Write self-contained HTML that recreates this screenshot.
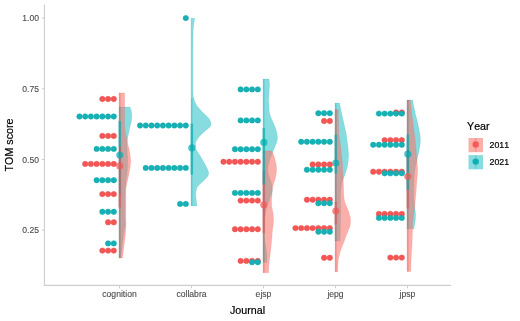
<!DOCTYPE html>
<html><head><meta charset="utf-8"><style>
html,body{margin:0;padding:0;background:#fff;}
text{font-kerning:none;}
.dr{fill:#F35654;stroke:#E84A48;stroke-width:0.5px;}
.dt{fill:#15B1B5;stroke:#0AA7AB;stroke-width:0.5px;}
svg{display:block;}
.ax{font-family:"Liberation Sans",Arial,sans-serif;font-size:8.6px;fill:#4D4D4D;stroke:#4D4D4D;stroke-width:0.12px;}
.ax2{font-family:"Liberation Sans",Arial,sans-serif;font-size:8.8px;fill:#000;stroke:#000;stroke-width:0.2px;}
.ti{font-family:"Liberation Sans",Arial,sans-serif;font-size:10.7px;fill:#000;stroke:#000;stroke-width:0.2px;}
</style></head><body>
<svg width="520" height="321" viewBox="0 0 520 321">
<rect width="520" height="321" fill="#fff"/>
<line x1="44.4" y1="4.8" x2="44.4" y2="285.9" stroke="#CDCDCD" stroke-width="1.1"/>
<line x1="43.85" y1="285.4" x2="451" y2="285.4" stroke="#CDCDCD" stroke-width="1.1"/>
<line x1="41.8" y1="230.20" x2="44" y2="230.20" stroke="#CDCDCD" stroke-width="1"/>
<text x="39" y="233.30" class="ax" text-anchor="end">0.25</text>
<line x1="41.8" y1="159.50" x2="44" y2="159.50" stroke="#CDCDCD" stroke-width="1"/>
<text x="39" y="162.60" class="ax" text-anchor="end">0.50</text>
<line x1="41.8" y1="88.80" x2="44" y2="88.80" stroke="#CDCDCD" stroke-width="1"/>
<text x="39" y="91.90" class="ax" text-anchor="end">0.75</text>
<line x1="41.8" y1="18.10" x2="44" y2="18.10" stroke="#CDCDCD" stroke-width="1"/>
<text x="39" y="21.20" class="ax" text-anchor="end">1.00</text>
<line x1="119.50" y1="286" x2="119.50" y2="288.3" stroke="#CDCDCD" stroke-width="1"/>
<text x="119.50" y="296.6" class="ax" text-anchor="middle">cognition</text>
<line x1="191.50" y1="286" x2="191.50" y2="288.3" stroke="#CDCDCD" stroke-width="1"/>
<text x="191.50" y="296.6" class="ax" text-anchor="middle">collabra</text>
<line x1="263.50" y1="286" x2="263.50" y2="288.3" stroke="#CDCDCD" stroke-width="1"/>
<text x="263.50" y="296.6" class="ax" text-anchor="middle">ejsp</text>
<line x1="335.50" y1="286" x2="335.50" y2="288.3" stroke="#CDCDCD" stroke-width="1"/>
<text x="335.50" y="296.6" class="ax" text-anchor="middle">jepg</text>
<line x1="407.50" y1="286" x2="407.50" y2="288.3" stroke="#CDCDCD" stroke-width="1"/>
<text x="407.50" y="296.6" class="ax" text-anchor="middle">jpsp</text>
<text x="247.5" y="313.6" class="ti" text-anchor="middle">Journal</text>
<text transform="translate(12.6,145) rotate(-90)" class="ti" text-anchor="middle">TOM score</text>
<path d="M119.0,106.9 L129.80,106.90 L130.03,107.40 L130.26,107.90 L130.47,108.40 L130.67,108.90 L130.84,109.40 L130.98,109.90 L131.09,110.40 L131.21,110.90 L131.32,111.40 L131.43,111.90 L131.53,112.40 L131.61,112.90 L131.69,113.40 L131.75,113.90 L131.78,114.40 L131.80,114.90 L131.80,115.40 L131.79,115.90 L131.78,116.40 L131.77,116.90 L131.75,117.40 L131.72,117.90 L131.70,118.40 L131.67,118.90 L131.64,119.40 L131.61,119.90 L131.56,120.40 L131.49,120.90 L131.39,121.40 L131.26,121.90 L131.13,122.40 L130.98,122.90 L130.84,123.40 L130.69,123.90 L130.55,124.40 L130.42,124.90 L130.31,125.40 L130.20,125.90 L130.09,126.40 L129.98,126.90 L129.87,127.40 L129.76,127.90 L129.65,128.40 L129.54,128.90 L129.43,129.40 L129.32,129.90 L129.21,130.40 L129.10,130.90 L128.98,131.40 L128.87,131.90 L128.75,132.40 L128.64,132.90 L128.53,133.40 L128.42,133.90 L128.32,134.40 L128.22,134.90 L128.13,135.40 L128.03,135.90 L127.94,136.40 L127.85,136.90 L127.77,137.40 L127.69,137.90 L127.61,138.40 L127.54,138.90 L127.47,139.40 L127.41,139.90 L127.36,140.40 L127.30,140.90 L127.25,141.40 L127.19,141.90 L127.14,142.40 L127.10,142.90 L127.06,143.40 L127.03,143.90 L127.01,144.40 L127.00,144.90 L127.00,145.40 L127.00,145.90 L127.01,146.40 L127.02,146.90 L127.03,147.40 L127.04,147.90 L127.05,148.40 L127.07,148.90 L127.08,149.40 L127.10,149.90 L127.11,150.40 L127.14,150.90 L127.17,151.40 L127.20,151.90 L127.24,152.40 L127.28,152.90 L127.33,153.40 L127.37,153.90 L127.41,154.40 L127.45,154.90 L127.49,155.40 L127.53,155.90 L127.56,156.40 L127.58,156.90 L127.59,157.40 L127.60,157.90 L127.60,158.40 L127.60,158.90 L127.60,159.40 L127.60,159.90 L127.60,160.40 L127.60,160.90 L127.60,161.40 L127.60,161.90 L127.60,162.40 L127.60,162.90 L127.60,163.40 L127.60,163.90 L127.60,164.40 L127.60,164.90 L127.60,165.40 L127.58,165.90 L127.56,166.40 L127.53,166.90 L127.50,167.40 L127.46,167.90 L127.42,168.40 L127.38,168.90 L127.34,169.40 L127.31,169.90 L127.27,170.40 L127.24,170.90 L127.20,171.40 L127.17,171.90 L127.13,172.40 L127.09,172.90 L127.05,173.40 L127.00,173.90 L126.96,174.40 L126.91,174.90 L126.86,175.40 L126.79,175.90 L126.72,176.40 L126.64,176.90 L126.57,177.40 L126.49,177.90 L126.41,178.40 L126.34,178.90 L126.27,179.40 L126.21,179.90 L126.16,180.40 L126.12,180.90 L126.08,181.40 L126.04,181.90 L126.00,182.40 L125.97,182.90 L125.93,183.40 L125.89,183.90 L125.85,184.40 L125.81,184.90 L125.76,185.40 L125.70,185.90 L125.63,186.40 L125.56,186.90 L125.49,187.40 L125.42,187.90 L125.35,188.40 L125.29,188.90 L125.24,189.40 L125.21,189.90 L125.18,190.40 L125.15,190.90 L125.13,191.40 L125.11,191.90 L125.09,192.40 L125.06,192.90 L125.04,193.40 L125.02,193.90 L125.01,194.40 L124.99,194.90 L124.97,195.40 L124.96,195.90 L124.95,196.40 L124.93,196.90 L124.92,197.40 L124.92,197.90 L124.91,198.40 L124.90,198.90 L124.90,199.40 L124.90,199.90 L124.90,200.40 L124.90,200.90 L124.90,201.40 L124.90,201.90 L124.90,202.40 L124.90,202.90 L124.90,203.40 L124.90,203.90 L124.90,204.40 L124.90,204.90 L124.90,205.40 L124.90,205.90 L124.90,206.40 L124.90,206.90 L124.90,207.40 L124.90,207.90 L124.90,208.40 L124.90,208.90 L124.90,209.40 L124.90,209.90 L124.90,210.40 L124.90,210.90 L124.90,211.40 L124.90,211.90 L124.90,212.40 L124.90,212.90 L124.90,213.40 L124.90,213.90 L124.90,214.40 L124.90,214.90 L124.90,215.40 L124.90,215.90 L124.90,216.40 L124.90,216.90 L124.90,217.40 L124.90,217.90 L124.90,218.40 L124.90,218.90 L124.90,219.40 L124.90,219.90 L124.91,220.40 L124.93,220.90 L124.96,221.40 L124.99,221.90 L125.03,222.40 L125.06,222.90 L125.09,223.40 L125.10,223.90 L125.10,224.40 L125.08,224.90 L125.05,225.40 L125.01,225.90 L124.96,226.40 L124.90,226.90 L124.83,227.40 L124.76,227.90 L124.68,228.40 L124.59,228.90 L124.50,229.40 L124.41,229.90 L124.31,230.40 L124.21,230.90 L124.12,231.40 L124.02,231.90 L123.92,232.40 L123.83,232.90 L123.75,233.40 L123.66,233.90 L123.58,234.40 L123.51,234.90 L123.45,235.40 L123.38,235.90 L123.32,236.40 L123.26,236.90 L123.20,237.40 L123.14,237.90 L123.08,238.40 L123.02,238.90 L122.96,239.40 L122.90,239.90 L122.84,240.40 L122.78,240.90 L122.72,241.40 L122.66,241.90 L122.61,242.40 L122.55,242.90 L122.49,243.40 L122.43,243.90 L122.37,244.40 L122.31,244.90 L122.25,245.40 L122.19,245.90 L122.13,246.40 L122.07,246.90 L122.01,247.40 L121.94,247.90 L121.88,248.40 L121.82,248.90 L121.76,249.40 L121.70,249.90 L121.64,250.40 L121.57,250.90 L121.51,251.40 L121.45,251.90 L121.39,252.40 L121.34,252.90 L121.28,253.40 L121.22,253.90 L121.17,254.40 L121.11,254.90 L121.06,255.40 L121.01,255.90 L120.96,256.40 L120.91,256.90 L120.86,257.40 L120.81,257.90 L120.80,258.00 L119.0,258.0 Z" fill="rgba(0,180,186,0.47)" stroke="rgba(0,165,170,0.3)" stroke-width="0.5"/>
<path d="M191.0,18.3 L194.70,18.30 L194.61,18.80 L194.53,19.30 L194.44,19.80 L194.36,20.30 L194.28,20.80 L194.20,21.30 L194.13,21.80 L194.06,22.30 L193.99,22.80 L193.92,23.30 L193.86,23.80 L193.80,24.30 L193.74,24.80 L193.69,25.30 L193.63,25.80 L193.57,26.30 L193.52,26.80 L193.47,27.30 L193.42,27.80 L193.37,28.30 L193.33,28.80 L193.29,29.30 L193.26,29.80 L193.23,30.30 L193.20,30.80 L193.19,31.30 L193.17,31.80 L193.15,32.30 L193.14,32.80 L193.12,33.30 L193.11,33.80 L193.10,34.30 L193.08,34.80 L193.07,35.30 L193.06,35.80 L193.05,36.30 L193.04,36.80 L193.03,37.30 L193.03,37.80 L193.02,38.30 L193.01,38.80 L193.01,39.30 L193.00,39.80 L193.00,40.30 L192.99,40.80 L192.99,41.30 L192.98,41.80 L192.98,42.30 L192.98,42.80 L192.97,43.30 L192.97,43.80 L192.96,44.30 L192.96,44.80 L192.96,45.30 L192.95,45.80 L192.95,46.30 L192.95,46.80 L192.94,47.30 L192.94,47.80 L192.94,48.30 L192.93,48.80 L192.93,49.30 L192.93,49.80 L192.93,50.30 L192.92,50.80 L192.92,51.30 L192.92,51.80 L192.92,52.30 L192.91,52.80 L192.91,53.30 L192.91,53.80 L192.91,54.30 L192.91,54.80 L192.91,55.30 L192.91,55.80 L192.90,56.30 L192.90,56.80 L192.90,57.30 L192.90,57.80 L192.90,58.30 L192.90,58.80 L192.90,59.30 L192.90,59.80 L192.90,60.30 L192.90,60.80 L192.90,61.30 L192.90,61.80 L192.90,62.30 L192.90,62.80 L192.90,63.30 L192.90,63.80 L192.90,64.30 L192.90,64.80 L192.90,65.30 L192.90,65.80 L192.90,66.30 L192.90,66.80 L192.90,67.30 L192.90,67.80 L192.90,68.30 L192.90,68.80 L192.90,69.30 L192.90,69.80 L192.90,70.30 L192.90,70.80 L192.90,71.30 L192.90,71.80 L192.90,72.30 L192.90,72.80 L192.90,73.30 L192.90,73.80 L192.90,74.30 L192.90,74.80 L192.90,75.30 L192.90,75.80 L192.90,76.30 L192.90,76.80 L192.90,77.30 L192.90,77.80 L192.90,78.30 L192.90,78.80 L192.90,79.30 L192.90,79.80 L192.90,80.30 L192.90,80.80 L192.90,81.30 L192.90,81.80 L192.90,82.30 L192.90,82.80 L192.90,83.30 L192.90,83.80 L192.90,84.30 L192.90,84.80 L192.90,85.30 L192.90,85.80 L192.90,86.30 L192.90,86.80 L192.90,87.30 L192.90,87.80 L192.90,88.30 L192.90,88.80 L192.91,89.30 L192.91,89.80 L192.92,90.30 L192.93,90.80 L192.95,91.30 L192.96,91.80 L192.98,92.30 L193.00,92.80 L193.02,93.30 L193.04,93.80 L193.06,94.30 L193.09,94.80 L193.12,95.30 L193.17,95.80 L193.25,96.30 L193.34,96.80 L193.45,97.30 L193.57,97.80 L193.71,98.30 L193.85,98.80 L193.99,99.30 L194.14,99.80 L194.29,100.30 L194.45,100.80 L194.63,101.30 L194.83,101.80 L195.04,102.30 L195.26,102.80 L195.50,103.30 L195.75,103.80 L196.01,104.30 L196.29,104.80 L196.58,105.30 L196.91,105.80 L197.27,106.30 L197.66,106.80 L198.08,107.30 L198.51,107.80 L198.96,108.30 L199.41,108.80 L199.87,109.30 L200.32,109.80 L200.77,110.30 L201.23,110.80 L201.71,111.30 L202.20,111.80 L202.69,112.30 L203.19,112.80 L203.69,113.30 L204.20,113.80 L204.70,114.30 L205.20,114.80 L205.71,115.30 L206.24,115.80 L206.79,116.30 L207.34,116.80 L207.85,117.30 L208.31,117.80 L208.70,118.30 L209.03,118.80 L209.35,119.30 L209.65,119.80 L209.92,120.30 L210.16,120.80 L210.37,121.30 L210.54,121.80 L210.68,122.30 L210.82,122.80 L210.93,123.30 L210.99,123.80 L210.98,124.30 L210.90,124.80 L210.76,125.30 L210.58,125.80 L210.35,126.30 L209.98,126.80 L209.50,127.30 L209.00,127.80 L208.50,128.30 L207.96,128.80 L207.39,129.30 L206.78,129.80 L206.15,130.30 L205.52,130.80 L204.89,131.30 L204.27,131.80 L203.67,132.30 L203.11,132.80 L202.59,133.30 L202.06,133.80 L201.53,134.30 L201.02,134.80 L200.51,135.30 L200.02,135.80 L199.56,136.30 L199.12,136.80 L198.71,137.30 L198.34,137.80 L198.00,138.30 L197.65,138.80 L197.30,139.30 L196.95,139.80 L196.63,140.30 L196.33,140.80 L196.07,141.30 L195.86,141.80 L195.70,142.30 L195.61,142.80 L195.59,143.30 L195.57,143.80 L195.56,144.30 L195.54,144.80 L195.53,145.30 L195.52,145.80 L195.51,146.30 L195.51,146.80 L195.50,147.30 L195.50,147.80 L195.52,148.30 L195.64,148.80 L195.85,149.30 L196.13,149.80 L196.45,150.30 L196.80,150.80 L197.15,151.30 L197.48,151.80 L197.78,152.30 L198.10,152.80 L198.44,153.30 L198.79,153.80 L199.15,154.30 L199.50,154.80 L199.84,155.30 L200.17,155.80 L200.48,156.30 L200.79,156.80 L201.08,157.30 L201.37,157.80 L201.65,158.30 L201.93,158.80 L202.21,159.30 L202.49,159.80 L202.77,160.30 L203.04,160.80 L203.32,161.30 L203.59,161.80 L203.87,162.30 L204.14,162.80 L204.40,163.30 L204.67,163.80 L204.93,164.30 L205.20,164.80 L205.46,165.30 L205.73,165.80 L206.00,166.30 L206.27,166.80 L206.54,167.30 L206.80,167.80 L207.06,168.30 L207.30,168.80 L207.52,169.30 L207.72,169.80 L207.91,170.30 L208.12,170.80 L208.31,171.30 L208.49,171.80 L208.62,172.30 L208.69,172.80 L208.69,173.30 L208.61,173.80 L208.48,174.30 L208.30,174.80 L208.10,175.30 L207.89,175.80 L207.65,176.30 L207.34,176.80 L206.97,177.30 L206.56,177.80 L206.15,178.30 L205.68,178.80 L205.18,179.30 L204.65,179.80 L204.10,180.30 L203.54,180.80 L202.98,181.30 L202.43,181.80 L201.90,182.30 L201.39,182.80 L200.91,183.30 L200.41,183.80 L199.89,184.30 L199.37,184.80 L198.86,185.30 L198.38,185.80 L197.94,186.30 L197.55,186.80 L197.22,187.30 L196.97,187.80 L196.80,188.30 L196.64,188.80 L196.49,189.30 L196.35,189.80 L196.22,190.30 L196.10,190.80 L195.99,191.30 L195.90,191.80 L195.82,192.30 L195.76,192.80 L195.72,193.30 L195.70,193.80 L195.70,194.30 L195.72,194.80 L195.74,195.30 L195.77,195.80 L195.81,196.30 L195.86,196.80 L195.91,197.30 L195.96,197.80 L196.02,198.30 L196.07,198.80 L196.13,199.30 L196.18,199.80 L196.23,200.30 L196.28,200.80 L196.33,201.30 L196.39,201.80 L196.45,202.30 L196.50,202.80 L196.56,203.30 L196.63,203.80 L196.69,204.30 L196.75,204.80 L196.82,205.30 L196.89,205.80 L196.90,205.90 L191.0,205.9 Z" fill="rgba(0,180,186,0.47)" stroke="rgba(0,165,170,0.3)" stroke-width="0.5"/>
<path d="M263.0,79.1 L268.90,79.10 L268.99,79.60 L269.08,80.10 L269.15,80.60 L269.23,81.10 L269.29,81.60 L269.34,82.10 L269.39,82.60 L269.43,83.10 L269.46,83.60 L269.48,84.10 L269.50,84.60 L269.50,85.10 L269.49,85.60 L269.47,86.10 L269.45,86.60 L269.42,87.10 L269.38,87.60 L269.34,88.10 L269.30,88.60 L269.26,89.10 L269.23,89.60 L269.19,90.10 L269.16,90.60 L269.13,91.10 L269.10,91.60 L269.07,92.10 L269.04,92.60 L269.01,93.10 L268.98,93.60 L268.95,94.10 L268.92,94.60 L268.89,95.10 L268.86,95.60 L268.82,96.10 L268.78,96.60 L268.74,97.10 L268.71,97.60 L268.67,98.10 L268.64,98.60 L268.62,99.10 L268.60,99.60 L268.60,100.10 L268.61,100.60 L268.63,101.10 L268.66,101.60 L268.69,102.10 L268.73,102.60 L268.77,103.10 L268.81,103.60 L268.85,104.10 L268.88,104.60 L268.90,105.10 L268.92,105.60 L268.94,106.10 L268.95,106.60 L268.97,107.10 L268.98,107.60 L269.00,108.10 L269.03,108.60 L269.07,109.10 L269.10,109.60 L269.15,110.10 L269.19,110.60 L269.25,111.10 L269.31,111.60 L269.37,112.10 L269.44,112.60 L269.52,113.10 L269.61,113.60 L269.73,114.10 L269.87,114.60 L270.03,115.10 L270.20,115.60 L270.38,116.10 L270.57,116.60 L270.76,117.10 L270.95,117.60 L271.14,118.10 L271.33,118.60 L271.54,119.10 L271.76,119.60 L271.98,120.10 L272.21,120.60 L272.44,121.10 L272.67,121.60 L272.90,122.10 L273.13,122.60 L273.34,123.10 L273.56,123.60 L273.78,124.10 L274.01,124.60 L274.23,125.10 L274.45,125.60 L274.67,126.10 L274.88,126.60 L275.07,127.10 L275.26,127.60 L275.43,128.10 L275.60,128.60 L275.77,129.10 L275.93,129.60 L276.08,130.10 L276.23,130.60 L276.37,131.10 L276.51,131.60 L276.62,132.10 L276.73,132.60 L276.82,133.10 L276.90,133.60 L276.99,134.10 L277.07,134.60 L277.15,135.10 L277.22,135.60 L277.28,136.10 L277.33,136.60 L277.37,137.10 L277.39,137.60 L277.40,138.10 L277.38,138.60 L277.34,139.10 L277.27,139.60 L277.19,140.10 L277.10,140.60 L276.99,141.10 L276.89,141.60 L276.78,142.10 L276.65,142.60 L276.48,143.10 L276.30,143.60 L276.09,144.10 L275.87,144.60 L275.64,145.10 L275.41,145.60 L275.18,146.10 L274.97,146.60 L274.76,147.10 L274.56,147.60 L274.36,148.10 L274.16,148.60 L273.96,149.10 L273.76,149.60 L273.56,150.10 L273.36,150.60 L273.16,151.10 L272.96,151.60 L272.76,152.10 L272.56,152.60 L272.35,153.10 L272.15,153.60 L271.95,154.10 L271.76,154.60 L271.56,155.10 L271.36,155.60 L271.16,156.10 L270.96,156.60 L270.77,157.10 L270.57,157.60 L270.38,158.10 L270.19,158.60 L270.01,159.10 L269.83,159.60 L269.67,160.10 L269.50,160.60 L269.33,161.10 L269.17,161.60 L269.00,162.10 L268.85,162.60 L268.70,163.10 L268.57,163.60 L268.45,164.10 L268.36,164.60 L268.29,165.10 L268.23,165.60 L268.17,166.10 L268.11,166.60 L268.06,167.10 L268.01,167.60 L267.97,168.10 L267.94,168.60 L267.92,169.10 L267.90,169.60 L267.90,170.10 L267.91,170.60 L267.94,171.10 L267.98,171.60 L268.03,172.10 L268.10,172.60 L268.17,173.10 L268.25,173.60 L268.34,174.10 L268.43,174.60 L268.52,175.10 L268.65,175.60 L268.82,176.10 L269.02,176.60 L269.25,177.10 L269.49,177.60 L269.73,178.10 L269.96,178.60 L270.18,179.10 L270.37,179.60 L270.53,180.10 L270.66,180.60 L270.79,181.10 L270.91,181.60 L271.02,182.10 L271.13,182.60 L271.24,183.10 L271.34,183.60 L271.43,184.10 L271.53,184.60 L271.62,185.10 L271.72,185.60 L271.82,186.10 L271.93,186.60 L272.04,187.10 L272.13,187.60 L272.22,188.10 L272.30,188.60 L272.36,189.10 L272.39,189.60 L272.40,190.10 L272.36,190.60 L272.27,191.10 L272.15,191.60 L271.99,192.10 L271.81,192.60 L271.61,193.10 L271.41,193.60 L271.22,194.10 L271.03,194.60 L270.87,195.10 L270.71,195.60 L270.55,196.10 L270.40,196.60 L270.24,197.10 L270.07,197.60 L269.91,198.10 L269.75,198.60 L269.59,199.10 L269.43,199.60 L269.27,200.10 L269.11,200.60 L268.95,201.10 L268.78,201.60 L268.62,202.10 L268.46,202.60 L268.30,203.10 L268.14,203.60 L267.98,204.10 L267.82,204.60 L267.67,205.10 L267.51,205.60 L267.35,206.10 L267.19,206.60 L267.03,207.10 L266.88,207.60 L266.72,208.10 L266.57,208.60 L266.43,209.10 L266.30,209.60 L266.18,210.10 L266.06,210.60 L265.95,211.10 L265.84,211.60 L265.73,212.10 L265.63,212.60 L265.54,213.10 L265.44,213.60 L265.35,214.10 L265.27,214.60 L265.18,215.10 L265.10,215.60 L265.01,216.10 L264.93,216.60 L264.84,217.10 L264.76,217.60 L264.69,218.10 L264.63,218.60 L264.57,219.10 L264.53,219.60 L264.49,220.10 L264.47,220.60 L264.44,221.10 L264.42,221.60 L264.40,222.10 L264.37,222.60 L264.35,223.10 L264.33,223.60 L264.31,224.10 L264.30,224.60 L264.28,225.10 L264.27,225.60 L264.25,226.10 L264.24,226.60 L264.23,227.10 L264.22,227.60 L264.21,228.10 L264.21,228.60 L264.20,229.10 L264.20,229.60 L264.20,230.10 L264.20,230.60 L264.20,231.10 L264.21,231.60 L264.21,232.10 L264.22,232.60 L264.23,233.10 L264.24,233.60 L264.25,234.10 L264.26,234.60 L264.28,235.10 L264.29,235.60 L264.30,236.10 L264.32,236.60 L264.36,237.10 L264.40,237.60 L264.45,238.10 L264.50,238.60 L264.57,239.10 L264.64,239.60 L264.71,240.10 L264.79,240.60 L264.87,241.10 L264.95,241.60 L265.04,242.10 L265.12,242.60 L265.20,243.10 L265.29,243.60 L265.37,244.10 L265.44,244.60 L265.51,245.10 L265.59,245.60 L265.67,246.10 L265.76,246.60 L265.86,247.10 L265.95,247.60 L266.05,248.10 L266.15,248.60 L266.25,249.10 L266.35,249.60 L266.45,250.10 L266.54,250.60 L266.62,251.10 L266.71,251.60 L266.78,252.10 L266.84,252.60 L266.90,253.10 L266.94,253.60 L266.98,254.10 L267.00,254.60 L267.00,255.10 L267.00,255.60 L267.00,256.10 L267.00,256.60 L267.00,257.10 L267.00,257.60 L267.00,258.10 L267.00,258.60 L267.00,259.10 L267.00,259.60 L267.00,260.10 L267.00,260.60 L267.00,261.10 L267.00,261.60 L267.00,262.10 L267.00,262.40 L263.0,262.4 Z" fill="rgba(0,180,186,0.47)" stroke="rgba(0,165,170,0.3)" stroke-width="0.5"/>
<path d="M335.0,103.1 L339.60,103.10 L339.69,103.60 L339.77,104.10 L339.86,104.60 L339.95,105.10 L340.04,105.60 L340.14,106.10 L340.23,106.60 L340.33,107.10 L340.42,107.60 L340.52,108.10 L340.62,108.60 L340.72,109.10 L340.82,109.60 L340.92,110.10 L341.02,110.60 L341.13,111.10 L341.24,111.60 L341.35,112.10 L341.46,112.60 L341.57,113.10 L341.69,113.60 L341.80,114.10 L341.91,114.60 L342.02,115.10 L342.13,115.60 L342.24,116.10 L342.35,116.60 L342.46,117.10 L342.57,117.60 L342.68,118.10 L342.79,118.60 L342.90,119.10 L343.01,119.60 L343.12,120.10 L343.23,120.60 L343.34,121.10 L343.45,121.60 L343.56,122.10 L343.67,122.60 L343.78,123.10 L343.89,123.60 L344.00,124.10 L344.11,124.60 L344.22,125.10 L344.33,125.60 L344.44,126.10 L344.55,126.60 L344.66,127.10 L344.77,127.60 L344.88,128.10 L344.99,128.60 L345.10,129.10 L345.21,129.60 L345.32,130.10 L345.44,130.60 L345.57,131.10 L345.70,131.60 L345.82,132.10 L345.92,132.60 L346.02,133.10 L346.10,133.60 L346.17,134.10 L346.24,134.60 L346.31,135.10 L346.37,135.60 L346.43,136.10 L346.49,136.60 L346.54,137.10 L346.60,137.60 L346.66,138.10 L346.72,138.60 L346.78,139.10 L346.84,139.60 L346.91,140.10 L346.99,140.60 L347.07,141.10 L347.16,141.60 L347.24,142.10 L347.33,142.60 L347.42,143.10 L347.50,143.60 L347.58,144.10 L347.65,144.60 L347.71,145.10 L347.77,145.60 L347.83,146.10 L347.89,146.60 L347.94,147.10 L347.99,147.60 L348.04,148.10 L348.08,148.60 L348.13,149.10 L348.17,149.60 L348.21,150.10 L348.25,150.60 L348.29,151.10 L348.33,151.60 L348.37,152.10 L348.40,152.60 L348.44,153.10 L348.46,153.60 L348.48,154.10 L348.50,154.60 L348.50,155.10 L348.50,155.60 L348.49,156.10 L348.47,156.60 L348.46,157.10 L348.43,157.60 L348.41,158.10 L348.38,158.60 L348.35,159.10 L348.32,159.60 L348.29,160.10 L348.25,160.60 L348.21,161.10 L348.15,161.60 L348.08,162.10 L348.01,162.60 L347.93,163.10 L347.85,163.60 L347.76,164.10 L347.67,164.60 L347.57,165.10 L347.48,165.60 L347.38,166.10 L347.28,166.60 L347.17,167.10 L347.05,167.60 L346.92,168.10 L346.79,168.60 L346.65,169.10 L346.51,169.60 L346.37,170.10 L346.22,170.60 L346.06,171.10 L345.90,171.60 L345.73,172.10 L345.55,172.60 L345.38,173.10 L345.20,173.60 L345.02,174.10 L344.84,174.60 L344.66,175.10 L344.49,175.60 L344.30,176.10 L344.12,176.60 L343.93,177.10 L343.74,177.60 L343.56,178.10 L343.37,178.60 L343.20,179.10 L343.03,179.60 L342.87,180.10 L342.71,180.60 L342.55,181.10 L342.39,181.60 L342.23,182.10 L342.08,182.60 L341.93,183.10 L341.80,183.60 L341.68,184.10 L341.57,184.60 L341.48,185.10 L341.40,185.60 L341.33,186.10 L341.26,186.60 L341.20,187.10 L341.14,187.60 L341.09,188.10 L341.04,188.60 L340.99,189.10 L340.94,189.60 L340.89,190.10 L340.84,190.60 L340.79,191.10 L340.73,191.60 L340.68,192.10 L340.63,192.60 L340.59,193.10 L340.55,193.60 L340.52,194.10 L340.50,194.60 L340.50,195.10 L340.50,195.60 L340.50,196.10 L340.50,196.60 L340.50,197.10 L340.50,197.60 L340.50,198.10 L340.50,198.60 L340.50,199.10 L340.50,199.60 L340.50,200.10 L340.50,200.60 L340.51,201.10 L340.51,201.60 L340.52,202.10 L340.53,202.60 L340.55,203.10 L340.56,203.60 L340.57,204.10 L340.59,204.60 L340.60,205.10 L340.62,205.60 L340.63,206.10 L340.65,206.60 L340.66,207.10 L340.67,207.60 L340.68,208.10 L340.69,208.60 L340.70,209.10 L340.70,209.60 L340.70,210.10 L340.70,210.60 L340.69,211.10 L340.69,211.60 L340.68,212.10 L340.67,212.60 L340.66,213.10 L340.65,213.60 L340.64,214.10 L340.63,214.60 L340.61,215.10 L340.60,215.60 L340.59,216.10 L340.57,216.60 L340.56,217.10 L340.55,217.60 L340.54,218.10 L340.52,218.60 L340.51,219.10 L340.51,219.60 L340.50,220.10 L340.49,220.60 L340.49,221.10 L340.48,221.60 L340.48,222.10 L340.47,222.60 L340.47,223.10 L340.46,223.60 L340.46,224.10 L340.46,224.60 L340.45,225.10 L340.45,225.60 L340.44,226.10 L340.44,226.60 L340.44,227.10 L340.43,227.60 L340.42,228.10 L340.42,228.60 L340.41,229.10 L340.41,229.60 L340.40,230.10 L340.39,230.60 L340.38,231.10 L340.37,231.60 L340.36,232.10 L340.34,232.60 L340.33,233.10 L340.31,233.60 L340.30,234.10 L340.28,234.60 L340.26,235.10 L340.25,235.60 L340.23,236.10 L340.21,236.60 L340.19,237.10 L340.16,237.60 L340.14,238.10 L340.12,238.60 L340.10,239.10 L340.07,239.60 L340.05,240.10 L340.02,240.60 L340.00,241.10 L335.0,241.1 Z" fill="rgba(0,180,186,0.47)" stroke="rgba(0,165,170,0.3)" stroke-width="0.5"/>
<path d="M407.0,100.1 L412.60,100.10 L412.69,100.60 L412.78,101.10 L412.87,101.60 L412.96,102.10 L413.05,102.60 L413.14,103.10 L413.23,103.60 L413.33,104.10 L413.42,104.60 L413.52,105.10 L413.62,105.60 L413.71,106.10 L413.81,106.60 L413.91,107.10 L414.01,107.60 L414.11,108.10 L414.21,108.60 L414.31,109.10 L414.42,109.60 L414.52,110.10 L414.63,110.60 L414.73,111.10 L414.84,111.60 L414.95,112.10 L415.05,112.60 L415.16,113.10 L415.28,113.60 L415.39,114.10 L415.51,114.60 L415.62,115.10 L415.75,115.60 L415.87,116.10 L416.00,116.60 L416.14,117.10 L416.27,117.60 L416.40,118.10 L416.54,118.60 L416.67,119.10 L416.80,119.60 L416.92,120.10 L417.05,120.60 L417.17,121.10 L417.30,121.60 L417.42,122.10 L417.54,122.60 L417.66,123.10 L417.78,123.60 L417.90,124.10 L418.01,124.60 L418.12,125.10 L418.23,125.60 L418.33,126.10 L418.44,126.60 L418.54,127.10 L418.64,127.60 L418.74,128.10 L418.83,128.60 L418.93,129.10 L419.02,129.60 L419.12,130.10 L419.22,130.60 L419.32,131.10 L419.43,131.60 L419.53,132.10 L419.63,132.60 L419.73,133.10 L419.82,133.60 L419.89,134.10 L419.96,134.60 L420.01,135.10 L420.05,135.60 L420.10,136.10 L420.14,136.60 L420.18,137.10 L420.21,137.60 L420.24,138.10 L420.27,138.60 L420.29,139.10 L420.30,139.60 L420.30,140.10 L420.29,140.60 L420.28,141.10 L420.26,141.60 L420.23,142.10 L420.20,142.60 L420.16,143.10 L420.12,143.60 L420.08,144.10 L420.03,144.60 L419.99,145.10 L419.94,145.60 L419.88,146.10 L419.81,146.60 L419.73,147.10 L419.64,147.60 L419.56,148.10 L419.46,148.60 L419.37,149.10 L419.27,149.60 L419.18,150.10 L419.08,150.60 L418.98,151.10 L418.87,151.60 L418.76,152.10 L418.65,152.60 L418.53,153.10 L418.42,153.60 L418.30,154.10 L418.19,154.60 L418.08,155.10 L417.97,155.60 L417.86,156.10 L417.75,156.60 L417.64,157.10 L417.53,157.60 L417.42,158.10 L417.31,158.60 L417.20,159.10 L417.09,159.60 L416.98,160.10 L416.86,160.60 L416.74,161.10 L416.61,161.60 L416.49,162.10 L416.36,162.60 L416.24,163.10 L416.11,163.60 L416.00,164.10 L415.88,164.60 L415.78,165.10 L415.68,165.60 L415.57,166.10 L415.47,166.60 L415.38,167.10 L415.28,167.60 L415.19,168.10 L415.10,168.60 L415.03,169.10 L414.95,169.60 L414.89,170.10 L414.83,170.60 L414.76,171.10 L414.70,171.60 L414.65,172.10 L414.59,172.60 L414.53,173.10 L414.48,173.60 L414.42,174.10 L414.37,174.60 L414.33,175.10 L414.28,175.60 L414.24,176.10 L414.19,176.60 L414.16,177.10 L414.12,177.60 L414.09,178.10 L414.06,178.60 L414.04,179.10 L414.01,179.60 L414.00,180.10 L413.98,180.60 L413.96,181.10 L413.95,181.60 L413.93,182.10 L413.92,182.60 L413.91,183.10 L413.89,183.60 L413.88,184.10 L413.87,184.60 L413.86,185.10 L413.85,185.60 L413.84,186.10 L413.83,186.60 L413.82,187.10 L413.81,187.60 L413.81,188.10 L413.81,188.60 L413.80,189.10 L413.80,189.60 L413.80,190.10 L413.80,190.60 L413.80,191.10 L413.80,191.60 L413.80,192.10 L413.80,192.60 L413.80,193.10 L413.80,193.60 L413.80,194.10 L413.80,194.60 L413.80,195.10 L413.80,195.60 L413.81,196.10 L413.83,196.60 L413.85,197.10 L413.87,197.60 L413.89,198.10 L413.92,198.60 L413.95,199.10 L413.98,199.60 L414.01,200.10 L414.04,200.60 L414.08,201.10 L414.13,201.60 L414.18,202.10 L414.23,202.60 L414.28,203.10 L414.34,203.60 L414.40,204.10 L414.46,204.60 L414.51,205.10 L414.57,205.60 L414.63,206.10 L414.69,206.60 L414.75,207.10 L414.81,207.60 L414.88,208.10 L414.94,208.60 L415.00,209.10 L415.06,209.60 L415.11,210.10 L415.17,210.60 L415.23,211.10 L415.30,211.60 L415.37,212.10 L415.43,212.60 L415.49,213.10 L415.54,213.60 L415.57,214.10 L415.59,214.60 L415.60,215.10 L415.59,215.60 L415.58,216.10 L415.56,216.60 L415.53,217.10 L415.50,217.60 L415.46,218.10 L415.42,218.60 L415.38,219.10 L415.33,219.60 L415.29,220.10 L415.24,220.60 L415.17,221.10 L415.09,221.60 L415.01,222.10 L414.92,222.60 L414.82,223.10 L414.73,223.60 L414.64,224.10 L414.56,224.60 L414.49,225.10 L414.41,225.60 L414.35,226.10 L414.28,226.60 L414.21,227.10 L414.15,227.60 L414.09,228.10 L414.02,228.60 L414.00,228.80 L407.0,228.8 Z" fill="rgba(0,180,186,0.47)" stroke="rgba(0,165,170,0.3)" stroke-width="0.5"/>
<path d="M119.0,93.0 L124.60,93.00 L124.60,93.50 L124.60,94.00 L124.60,94.50 L124.60,95.00 L124.60,95.50 L124.60,96.00 L124.60,96.50 L124.60,97.00 L124.60,97.50 L124.60,98.00 L124.60,98.50 L124.60,99.00 L124.60,99.50 L124.60,100.00 L124.60,100.50 L124.60,101.00 L124.60,101.50 L124.60,102.00 L124.60,102.50 L124.60,103.00 L124.60,103.50 L124.60,104.00 L124.60,104.50 L124.60,105.00 L124.60,105.50 L124.60,106.00 L124.60,106.50 L124.60,107.00 L124.60,107.50 L124.60,108.00 L124.60,108.50 L124.60,109.00 L124.59,109.50 L124.59,110.00 L124.59,110.50 L124.59,111.00 L124.58,111.50 L124.58,112.00 L124.58,112.50 L124.57,113.00 L124.57,113.50 L124.57,114.00 L124.56,114.50 L124.56,115.00 L124.55,115.50 L124.55,116.00 L124.55,116.50 L124.54,117.00 L124.54,117.50 L124.53,118.00 L124.53,118.50 L124.53,119.00 L124.52,119.50 L124.52,120.00 L124.52,120.50 L124.51,121.00 L124.51,121.50 L124.51,122.00 L124.51,122.50 L124.50,123.00 L124.50,123.50 L124.50,124.00 L124.50,124.50 L124.50,125.00 L124.51,125.50 L124.52,126.00 L124.55,126.50 L124.59,127.00 L124.63,127.50 L124.68,128.00 L124.73,128.50 L124.79,129.00 L124.84,129.50 L124.90,130.00 L124.96,130.50 L125.03,131.00 L125.11,131.50 L125.20,132.00 L125.30,132.50 L125.39,133.00 L125.49,133.50 L125.60,134.00 L125.70,134.50 L125.80,135.00 L125.90,135.50 L126.01,136.00 L126.11,136.50 L126.22,137.00 L126.34,137.50 L126.45,138.00 L126.56,138.50 L126.68,139.00 L126.79,139.50 L126.90,140.00 L127.01,140.50 L127.12,141.00 L127.22,141.50 L127.33,142.00 L127.44,142.50 L127.55,143.00 L127.66,143.50 L127.77,144.00 L127.88,144.50 L128.00,145.00 L128.12,145.50 L128.26,146.00 L128.39,146.50 L128.53,147.00 L128.68,147.50 L128.81,148.00 L128.95,148.50 L129.08,149.00 L129.19,149.50 L129.30,150.00 L129.40,150.50 L129.49,151.00 L129.58,151.50 L129.67,152.00 L129.75,152.50 L129.82,153.00 L129.90,153.50 L129.97,154.00 L130.04,154.50 L130.10,155.00 L130.16,155.50 L130.23,156.00 L130.30,156.50 L130.36,157.00 L130.43,157.50 L130.48,158.00 L130.53,158.50 L130.57,159.00 L130.59,159.50 L130.60,160.00 L130.60,160.50 L130.59,161.00 L130.58,161.50 L130.56,162.00 L130.54,162.50 L130.52,163.00 L130.49,163.50 L130.46,164.00 L130.43,164.50 L130.40,165.00 L130.36,165.50 L130.30,166.00 L130.23,166.50 L130.15,167.00 L130.07,167.50 L129.97,168.00 L129.88,168.50 L129.78,169.00 L129.69,169.50 L129.60,170.00 L129.52,170.50 L129.43,171.00 L129.34,171.50 L129.26,172.00 L129.17,172.50 L129.08,173.00 L128.99,173.50 L128.89,174.00 L128.80,174.50 L128.70,175.00 L128.60,175.50 L128.49,176.00 L128.39,176.50 L128.28,177.00 L128.16,177.50 L128.05,178.00 L127.94,178.50 L127.82,179.00 L127.71,179.50 L127.60,180.00 L127.49,180.50 L127.37,181.00 L127.25,181.50 L127.14,182.00 L127.02,182.50 L126.90,183.00 L126.79,183.50 L126.69,184.00 L126.59,184.50 L126.50,185.00 L126.41,185.50 L126.32,186.00 L126.22,186.50 L126.13,187.00 L126.04,187.50 L125.96,188.00 L125.90,188.50 L125.85,189.00 L125.81,189.50 L125.80,190.00 L125.80,190.50 L125.80,191.00 L125.80,191.50 L125.80,192.00 L125.80,192.50 L125.80,193.00 L125.80,193.50 L125.80,194.00 L125.80,194.50 L125.80,195.00 L125.80,195.50 L125.80,196.00 L125.80,196.50 L125.80,197.00 L125.80,197.50 L125.80,198.00 L125.80,198.50 L125.80,199.00 L125.80,199.50 L125.80,200.00 L125.80,200.50 L125.80,201.00 L125.80,201.50 L125.80,202.00 L125.80,202.50 L125.80,203.00 L125.80,203.50 L125.80,204.00 L125.80,204.50 L125.80,205.00 L125.80,205.50 L125.80,206.00 L125.80,206.50 L125.80,207.00 L125.80,207.50 L125.80,208.00 L125.80,208.50 L125.80,209.00 L125.80,209.50 L125.80,210.00 L125.80,210.50 L125.80,211.00 L125.80,211.50 L125.81,212.00 L125.81,212.50 L125.81,213.00 L125.82,213.50 L125.82,214.00 L125.83,214.50 L125.83,215.00 L125.84,215.50 L125.84,216.00 L125.85,216.50 L125.86,217.00 L125.86,217.50 L125.87,218.00 L125.88,218.50 L125.88,219.00 L125.89,219.50 L125.90,220.00 L125.91,220.50 L125.92,221.00 L125.94,221.50 L125.96,222.00 L125.97,222.50 L125.99,223.00 L126.00,223.50 L126.00,224.00 L126.00,224.50 L125.99,225.00 L125.98,225.50 L125.96,226.00 L125.94,226.50 L125.92,227.00 L125.90,227.50 L125.87,228.00 L125.84,228.50 L125.80,229.00 L125.76,229.50 L125.73,230.00 L125.69,230.50 L125.65,231.00 L125.60,231.50 L125.56,232.00 L125.52,232.50 L125.47,233.00 L125.43,233.50 L125.39,234.00 L125.34,234.50 L125.30,235.00 L125.26,235.50 L125.21,236.00 L125.16,236.50 L125.11,237.00 L125.05,237.50 L124.99,238.00 L124.93,238.50 L124.87,239.00 L124.81,239.50 L124.75,240.00 L124.68,240.50 L124.61,241.00 L124.55,241.50 L124.48,242.00 L124.42,242.50 L124.35,243.00 L124.29,243.50 L124.22,244.00 L124.16,244.50 L124.10,245.00 L124.04,245.50 L123.98,246.00 L123.92,246.50 L123.86,247.00 L123.80,247.50 L123.74,248.00 L123.69,248.50 L123.63,249.00 L123.57,249.50 L123.51,250.00 L123.45,250.50 L123.39,251.00 L123.33,251.50 L123.27,252.00 L123.21,252.50 L123.15,253.00 L123.09,253.50 L123.03,254.00 L122.96,254.50 L122.90,255.00 L122.84,255.50 L122.77,256.00 L122.70,256.50 L122.64,257.00 L122.57,257.50 L122.50,258.00 L119.0,258.0 Z" fill="rgba(248,118,109,0.58)" stroke="rgba(240,100,95,0.35)" stroke-width="0.5"/>
<path d="M263.0,151.0 L271.60,151.00 L271.89,151.50 L272.17,152.00 L272.44,152.50 L272.71,153.00 L272.95,153.50 L273.19,154.00 L273.40,154.50 L273.60,155.00 L273.78,155.50 L273.96,156.00 L274.12,156.50 L274.28,157.00 L274.43,157.50 L274.57,158.00 L274.71,158.50 L274.84,159.00 L274.97,159.50 L275.10,160.00 L275.23,160.50 L275.36,161.00 L275.49,161.50 L275.62,162.00 L275.75,162.50 L275.87,163.00 L275.97,163.50 L276.07,164.00 L276.14,164.50 L276.20,165.00 L276.25,165.50 L276.29,166.00 L276.33,166.50 L276.37,167.00 L276.41,167.50 L276.44,168.00 L276.46,168.50 L276.48,169.00 L276.50,169.50 L276.50,170.00 L276.49,170.50 L276.46,171.00 L276.42,171.50 L276.36,172.00 L276.30,172.50 L276.22,173.00 L276.14,173.50 L276.06,174.00 L275.98,174.50 L275.90,175.00 L275.82,175.50 L275.73,176.00 L275.63,176.50 L275.53,177.00 L275.42,177.50 L275.30,178.00 L275.18,178.50 L275.06,179.00 L274.93,179.50 L274.80,180.00 L274.66,180.50 L274.51,181.00 L274.34,181.50 L274.17,182.00 L273.99,182.50 L273.82,183.00 L273.64,183.50 L273.48,184.00 L273.33,184.50 L273.20,185.00 L273.08,185.50 L272.95,186.00 L272.82,186.50 L272.70,187.00 L272.59,187.50 L272.48,188.00 L272.39,188.50 L272.31,189.00 L272.24,189.50 L272.20,190.00 L272.17,190.50 L272.15,191.00 L272.13,191.50 L272.11,192.00 L272.09,192.50 L272.08,193.00 L272.06,193.50 L272.05,194.00 L272.03,194.50 L272.00,195.00 L271.96,195.50 L271.91,196.00 L271.85,196.50 L271.78,197.00 L271.71,197.50 L271.65,198.00 L271.59,198.50 L271.54,199.00 L271.51,199.50 L271.50,200.00 L271.50,200.50 L271.50,201.00 L271.51,201.50 L271.52,202.00 L271.53,202.50 L271.54,203.00 L271.55,203.50 L271.57,204.00 L271.58,204.50 L271.60,205.00 L271.63,205.50 L271.68,206.00 L271.75,206.50 L271.83,207.00 L271.92,207.50 L272.02,208.00 L272.12,208.50 L272.22,209.00 L272.31,209.50 L272.40,210.00 L272.48,210.50 L272.57,211.00 L272.66,211.50 L272.75,212.00 L272.85,212.50 L272.93,213.00 L273.01,213.50 L273.09,214.00 L273.15,214.50 L273.20,215.00 L273.24,215.50 L273.29,216.00 L273.33,216.50 L273.37,217.00 L273.40,217.50 L273.44,218.00 L273.46,218.50 L273.48,219.00 L273.50,219.50 L273.50,220.00 L273.50,220.50 L273.48,221.00 L273.46,221.50 L273.44,222.00 L273.40,222.50 L273.37,223.00 L273.33,223.50 L273.29,224.00 L273.24,224.50 L273.20,225.00 L273.15,225.50 L273.08,226.00 L272.99,226.50 L272.90,227.00 L272.81,227.50 L272.71,228.00 L272.62,228.50 L272.53,229.00 L272.46,229.50 L272.40,230.00 L272.35,230.50 L272.31,231.00 L272.28,231.50 L272.25,232.00 L272.21,232.50 L272.19,233.00 L272.16,233.50 L272.13,234.00 L272.10,234.50 L272.07,235.00 L272.04,235.50 L272.00,236.00 L271.96,236.50 L271.92,237.00 L271.88,237.50 L271.84,238.00 L271.80,238.50 L271.76,239.00 L271.71,239.50 L271.67,240.00 L271.63,240.50 L271.58,241.00 L271.53,241.50 L271.49,242.00 L271.44,242.50 L271.39,243.00 L271.35,243.50 L271.30,244.00 L271.25,244.50 L271.20,245.00 L271.15,245.50 L271.10,246.00 L271.05,246.50 L271.00,247.00 L270.94,247.50 L270.89,248.00 L270.84,248.50 L270.78,249.00 L270.73,249.50 L270.67,250.00 L270.61,250.50 L270.56,251.00 L270.50,251.50 L270.44,252.00 L270.39,252.50 L270.33,253.00 L270.27,253.50 L270.21,254.00 L270.16,254.50 L270.10,255.00 L270.04,255.50 L269.98,256.00 L269.92,256.50 L269.85,257.00 L269.78,257.50 L269.72,258.00 L269.65,258.50 L269.58,259.00 L269.51,259.50 L269.44,260.00 L269.38,260.50 L269.31,261.00 L269.25,261.50 L269.19,262.00 L269.13,262.50 L269.08,263.00 L269.03,263.50 L268.98,264.00 L268.94,264.50 L268.90,265.00 L268.86,265.50 L268.83,266.00 L268.80,266.50 L268.76,267.00 L268.73,267.50 L268.70,268.00 L268.67,268.50 L268.65,269.00 L268.62,269.50 L268.60,270.00 L268.57,270.50 L268.55,271.00 L268.54,271.50 L268.52,272.00 L268.51,272.50 L268.50,272.80 L263.0,272.8 Z" fill="rgba(248,118,109,0.58)" stroke="rgba(240,100,95,0.35)" stroke-width="0.5"/>
<path d="M335.0,109.6 L338.20,109.60 L338.21,110.10 L338.22,110.60 L338.23,111.10 L338.24,111.60 L338.24,112.10 L338.25,112.60 L338.26,113.10 L338.27,113.60 L338.28,114.10 L338.29,114.60 L338.30,115.10 L338.31,115.60 L338.32,116.10 L338.33,116.60 L338.34,117.10 L338.35,117.60 L338.36,118.10 L338.37,118.60 L338.38,119.10 L338.39,119.60 L338.40,120.10 L338.41,120.60 L338.42,121.10 L338.43,121.60 L338.44,122.10 L338.45,122.60 L338.46,123.10 L338.47,123.60 L338.47,124.10 L338.48,124.60 L338.49,125.10 L338.50,125.60 L338.51,126.10 L338.52,126.60 L338.53,127.10 L338.54,127.60 L338.55,128.10 L338.56,128.60 L338.57,129.10 L338.58,129.60 L338.60,130.10 L338.61,130.60 L338.63,131.10 L338.65,131.60 L338.66,132.10 L338.68,132.60 L338.70,133.10 L338.73,133.60 L338.77,134.10 L338.82,134.60 L338.87,135.10 L338.94,135.60 L339.00,136.10 L339.08,136.60 L339.15,137.10 L339.23,137.60 L339.31,138.10 L339.39,138.60 L339.47,139.10 L339.54,139.60 L339.61,140.10 L339.69,140.60 L339.77,141.10 L339.86,141.60 L339.94,142.10 L340.03,142.60 L340.12,143.10 L340.20,143.60 L340.28,144.10 L340.35,144.60 L340.41,145.10 L340.47,145.60 L340.52,146.10 L340.57,146.60 L340.62,147.10 L340.67,147.60 L340.71,148.10 L340.76,148.60 L340.81,149.10 L340.86,149.60 L340.91,150.10 L340.97,150.60 L341.03,151.10 L341.09,151.60 L341.15,152.10 L341.21,152.60 L341.28,153.10 L341.34,153.60 L341.40,154.10 L341.46,154.60 L341.51,155.10 L341.56,155.60 L341.62,156.10 L341.67,156.60 L341.72,157.10 L341.77,157.60 L341.82,158.10 L341.87,158.60 L341.92,159.10 L341.96,159.60 L342.01,160.10 L342.06,160.60 L342.10,161.10 L342.15,161.60 L342.19,162.10 L342.24,162.60 L342.28,163.10 L342.33,163.60 L342.37,164.10 L342.41,164.60 L342.44,165.10 L342.48,165.60 L342.51,166.10 L342.53,166.60 L342.56,167.10 L342.59,167.60 L342.61,168.10 L342.63,168.60 L342.66,169.10 L342.68,169.60 L342.70,170.10 L342.72,170.60 L342.74,171.10 L342.76,171.60 L342.78,172.10 L342.80,172.60 L342.82,173.10 L342.84,173.60 L342.86,174.10 L342.88,174.60 L342.90,175.10 L342.93,175.60 L342.95,176.10 L342.98,176.60 L343.00,177.10 L343.03,177.60 L343.05,178.10 L343.08,178.60 L343.11,179.10 L343.13,179.60 L343.16,180.10 L343.18,180.60 L343.21,181.10 L343.24,181.60 L343.26,182.10 L343.29,182.60 L343.31,183.10 L343.34,183.60 L343.36,184.10 L343.38,184.60 L343.40,185.10 L343.43,185.60 L343.45,186.10 L343.46,186.60 L343.48,187.10 L343.50,187.60 L343.52,188.10 L343.53,188.60 L343.55,189.10 L343.57,189.60 L343.58,190.10 L343.60,190.60 L343.62,191.10 L343.64,191.60 L343.66,192.10 L343.68,192.60 L343.70,193.10 L343.72,193.60 L343.75,194.10 L343.78,194.60 L343.81,195.10 L343.84,195.60 L343.87,196.10 L343.91,196.60 L343.96,197.10 L344.00,197.60 L344.06,198.10 L344.11,198.60 L344.17,199.10 L344.24,199.60 L344.32,200.10 L344.41,200.60 L344.52,201.10 L344.65,201.60 L344.79,202.10 L344.95,202.60 L345.12,203.10 L345.30,203.60 L345.48,204.10 L345.66,204.60 L345.84,205.10 L346.03,205.60 L346.24,206.10 L346.47,206.60 L346.70,207.10 L346.94,207.60 L347.18,208.10 L347.41,208.60 L347.63,209.10 L347.85,209.60 L348.04,210.10 L348.22,210.60 L348.40,211.10 L348.58,211.60 L348.75,212.10 L348.92,212.60 L349.08,213.10 L349.23,213.60 L349.37,214.10 L349.50,214.60 L349.62,215.10 L349.74,215.60 L349.87,216.10 L349.99,216.60 L350.11,217.10 L350.22,217.60 L350.31,218.10 L350.39,218.60 L350.45,219.10 L350.49,219.60 L350.50,220.10 L350.49,220.60 L350.48,221.10 L350.46,221.60 L350.44,222.10 L350.41,222.60 L350.37,223.10 L350.33,223.60 L350.29,224.10 L350.24,224.60 L350.19,225.10 L350.11,225.60 L349.99,226.10 L349.84,226.60 L349.67,227.10 L349.48,227.60 L349.27,228.10 L349.06,228.60 L348.85,229.10 L348.65,229.60 L348.46,230.10 L348.27,230.60 L348.08,231.10 L347.88,231.60 L347.67,232.10 L347.47,232.60 L347.26,233.10 L347.05,233.60 L346.85,234.10 L346.65,234.60 L346.46,235.10 L346.28,235.60 L346.09,236.10 L345.92,236.60 L345.74,237.10 L345.56,237.60 L345.39,238.10 L345.21,238.60 L345.03,239.10 L344.85,239.60 L344.66,240.10 L344.47,240.60 L344.27,241.10 L344.08,241.60 L343.87,242.10 L343.67,242.60 L343.47,243.10 L343.27,243.60 L343.06,244.10 L342.86,244.60 L342.66,245.10 L342.45,245.60 L342.24,246.10 L342.03,246.60 L341.82,247.10 L341.60,247.60 L341.40,248.10 L341.20,248.60 L341.01,249.10 L340.83,249.60 L340.67,250.10 L340.52,250.60 L340.37,251.10 L340.24,251.60 L340.10,252.10 L339.98,252.60 L339.85,253.10 L339.73,253.60 L339.61,254.10 L339.50,254.60 L339.38,255.10 L339.25,255.60 L339.12,256.10 L338.99,256.60 L338.86,257.10 L338.74,257.60 L338.62,258.10 L338.51,258.60 L338.42,259.10 L338.34,259.60 L338.29,260.10 L338.25,260.60 L338.21,261.10 L338.17,261.60 L338.14,262.10 L338.11,262.60 L338.08,263.10 L338.06,263.60 L338.04,264.10 L338.02,264.60 L338.00,265.10 L337.98,265.60 L337.96,266.10 L337.94,266.60 L337.92,267.10 L337.90,267.60 L337.89,268.10 L337.87,268.60 L337.86,269.10 L337.84,269.60 L337.83,270.10 L337.82,270.60 L337.81,271.10 L337.80,271.60 L337.80,271.80 L335.0,271.8 Z" fill="rgba(248,118,109,0.58)" stroke="rgba(240,100,95,0.35)" stroke-width="0.5"/>
<path d="M407.0,100.1 L410.20,100.10 L410.25,100.60 L410.30,101.10 L410.35,101.60 L410.41,102.10 L410.46,102.60 L410.51,103.10 L410.57,103.60 L410.62,104.10 L410.68,104.60 L410.73,105.10 L410.79,105.60 L410.85,106.10 L410.90,106.60 L410.96,107.10 L411.02,107.60 L411.08,108.10 L411.13,108.60 L411.19,109.10 L411.25,109.60 L411.31,110.10 L411.37,110.60 L411.43,111.10 L411.50,111.60 L411.56,112.10 L411.63,112.60 L411.69,113.10 L411.76,113.60 L411.82,114.10 L411.89,114.60 L411.96,115.10 L412.02,115.60 L412.09,116.10 L412.16,116.60 L412.22,117.10 L412.29,117.60 L412.36,118.10 L412.42,118.60 L412.49,119.10 L412.55,119.60 L412.61,120.10 L412.67,120.60 L412.74,121.10 L412.80,121.60 L412.85,122.10 L412.91,122.60 L412.97,123.10 L413.03,123.60 L413.09,124.10 L413.15,124.60 L413.20,125.10 L413.26,125.60 L413.32,126.10 L413.38,126.60 L413.44,127.10 L413.50,127.60 L413.56,128.10 L413.62,128.60 L413.68,129.10 L413.75,129.60 L413.81,130.10 L413.88,130.60 L413.95,131.10 L414.02,131.60 L414.09,132.10 L414.17,132.60 L414.24,133.10 L414.31,133.60 L414.38,134.10 L414.45,134.60 L414.51,135.10 L414.58,135.60 L414.64,136.10 L414.70,136.60 L414.76,137.10 L414.82,137.60 L414.88,138.10 L414.94,138.60 L415.00,139.10 L415.06,139.60 L415.11,140.10 L415.16,140.60 L415.22,141.10 L415.27,141.60 L415.32,142.10 L415.37,142.60 L415.42,143.10 L415.47,143.60 L415.52,144.10 L415.56,144.60 L415.61,145.10 L415.65,145.60 L415.69,146.10 L415.73,146.60 L415.77,147.10 L415.81,147.60 L415.85,148.10 L415.89,148.60 L415.93,149.10 L415.97,149.60 L416.01,150.10 L416.05,150.60 L416.09,151.10 L416.13,151.60 L416.17,152.10 L416.21,152.60 L416.25,153.10 L416.29,153.60 L416.33,154.10 L416.37,154.60 L416.41,155.10 L416.45,155.60 L416.49,156.10 L416.52,156.60 L416.56,157.10 L416.60,157.60 L416.64,158.10 L416.68,158.60 L416.72,159.10 L416.76,159.60 L416.81,160.10 L416.86,160.60 L416.91,161.10 L416.96,161.60 L417.01,162.10 L417.07,162.60 L417.12,163.10 L417.18,163.60 L417.22,164.10 L417.27,164.60 L417.31,165.10 L417.35,165.60 L417.39,166.10 L417.43,166.60 L417.47,167.10 L417.50,167.60 L417.54,168.10 L417.56,168.60 L417.58,169.10 L417.60,169.60 L417.60,170.10 L417.59,170.60 L417.58,171.10 L417.55,171.60 L417.52,172.10 L417.49,172.60 L417.45,173.10 L417.41,173.60 L417.37,174.10 L417.33,174.60 L417.29,175.10 L417.26,175.60 L417.22,176.10 L417.18,176.60 L417.14,177.10 L417.10,177.60 L417.06,178.10 L417.02,178.60 L416.97,179.10 L416.93,179.60 L416.89,180.10 L416.85,180.60 L416.81,181.10 L416.77,181.60 L416.73,182.10 L416.68,182.60 L416.64,183.10 L416.60,183.60 L416.57,184.10 L416.53,184.60 L416.49,185.10 L416.46,185.60 L416.43,186.10 L416.40,186.60 L416.37,187.10 L416.34,187.60 L416.32,188.10 L416.29,188.60 L416.26,189.10 L416.23,189.60 L416.19,190.10 L416.16,190.60 L416.12,191.10 L416.08,191.60 L416.04,192.10 L416.00,192.60 L415.96,193.10 L415.92,193.60 L415.88,194.10 L415.84,194.60 L415.79,195.10 L415.74,195.60 L415.70,196.10 L415.64,196.60 L415.59,197.10 L415.54,197.60 L415.49,198.10 L415.44,198.60 L415.38,199.10 L415.34,199.60 L415.29,200.10 L415.25,200.60 L415.21,201.10 L415.17,201.60 L415.14,202.10 L415.10,202.60 L415.06,203.10 L415.03,203.60 L414.98,204.10 L414.94,204.60 L414.89,205.10 L414.83,205.60 L414.77,206.10 L414.70,206.60 L414.63,207.10 L414.55,207.60 L414.48,208.10 L414.40,208.60 L414.32,209.10 L414.25,209.60 L414.19,210.10 L414.12,210.60 L414.06,211.10 L414.00,211.60 L413.95,212.10 L413.89,212.60 L413.83,213.10 L413.77,213.60 L413.71,214.10 L413.65,214.60 L413.59,215.10 L413.52,215.60 L413.44,216.10 L413.36,216.60 L413.28,217.10 L413.21,217.60 L413.13,218.10 L413.06,218.60 L412.99,219.10 L412.94,219.60 L412.89,220.10 L412.85,220.60 L412.81,221.10 L412.78,221.60 L412.74,222.10 L412.71,222.60 L412.68,223.10 L412.66,223.60 L412.63,224.10 L412.61,224.60 L412.60,225.10 L412.58,225.60 L412.57,226.10 L412.56,226.60 L412.55,227.10 L412.54,227.60 L412.54,228.10 L412.53,228.60 L412.52,229.10 L412.51,229.60 L412.50,230.10 L412.49,230.60 L412.47,231.10 L412.46,231.60 L412.45,232.10 L412.44,232.60 L412.42,233.10 L412.41,233.60 L412.39,234.10 L412.38,234.60 L412.36,235.10 L412.35,235.60 L412.33,236.10 L412.32,236.60 L412.30,237.10 L412.29,237.60 L412.27,238.10 L412.25,238.60 L412.23,239.10 L412.21,239.60 L412.20,240.10 L412.18,240.60 L412.16,241.10 L412.14,241.60 L412.11,242.10 L412.09,242.60 L412.07,243.10 L412.04,243.60 L412.02,244.10 L411.99,244.60 L411.97,245.10 L411.94,245.60 L411.91,246.10 L411.89,246.60 L411.86,247.10 L411.83,247.60 L411.80,248.10 L411.78,248.60 L411.75,249.10 L411.72,249.60 L411.69,250.10 L411.67,250.60 L411.64,251.10 L411.61,251.60 L411.57,252.10 L411.54,252.60 L411.51,253.10 L411.47,253.60 L411.44,254.10 L411.40,254.60 L411.37,255.10 L411.34,255.60 L411.31,256.10 L411.27,256.60 L411.24,257.10 L411.21,257.60 L411.19,258.10 L411.16,258.60 L411.14,259.10 L411.12,259.60 L411.10,260.10 L411.08,260.60 L411.06,261.10 L411.04,261.60 L411.02,262.10 L411.01,262.60 L410.99,263.10 L410.97,263.60 L410.96,264.10 L410.94,264.60 L410.93,265.10 L410.91,265.60 L410.90,266.10 L410.89,266.60 L410.87,267.10 L410.86,267.60 L410.85,268.10 L410.84,268.60 L410.83,269.10 L410.82,269.60 L410.82,270.10 L410.81,270.60 L410.80,271.10 L410.80,271.50 L407.0,271.5 Z" fill="rgba(248,118,109,0.58)" stroke="rgba(240,100,95,0.35)" stroke-width="0.5"/>
<rect x="119.00" y="93.00" width="1.7" height="165.00" fill="rgba(230,90,88,0.3)"/>
<rect x="263.00" y="151.00" width="1.7" height="121.80" fill="rgba(230,90,88,0.3)"/>
<rect x="335.00" y="109.60" width="1.7" height="162.20" fill="rgba(230,90,88,0.3)"/>
<rect x="407.00" y="100.10" width="1.7" height="171.40" fill="rgba(230,90,88,0.3)"/>
<rect x="119.00" y="106.90" width="1.7" height="151.10" fill="rgba(0,165,170,0.22)"/>
<rect x="191.00" y="98.00" width="1.7" height="107.90" fill="rgba(0,165,170,0.22)"/>
<rect x="263.00" y="79.10" width="1.7" height="183.30" fill="rgba(0,165,170,0.22)"/>
<rect x="335.00" y="103.10" width="1.7" height="138.00" fill="rgba(0,165,170,0.22)"/>
<rect x="407.00" y="100.10" width="1.7" height="128.70" fill="rgba(0,165,170,0.22)"/>
<rect x="118.50" y="194.00" width="2.6" height="13.40" fill="rgba(220,85,85,0.55)"/>
<rect x="262.50" y="171.00" width="2.6" height="62.20" fill="rgba(220,85,85,0.55)"/>
<rect x="334.50" y="201.70" width="2.6" height="22.90" fill="rgba(220,85,85,0.55)"/>
<rect x="406.50" y="150.00" width="2.6" height="58.60" fill="rgba(220,85,85,0.55)"/>
<rect x="118.50" y="121.10" width="2.6" height="25.70" fill="rgba(0,170,175,0.6)"/>
<rect x="190.50" y="123.60" width="2.6" height="50.90" fill="rgba(0,170,175,0.6)"/>
<rect x="262.50" y="128.20" width="2.6" height="56.30" fill="rgba(0,170,175,0.6)"/>
<rect x="334.50" y="134.60" width="2.6" height="39.00" fill="rgba(0,170,175,0.6)"/>
<rect x="406.50" y="134.50" width="2.6" height="55.30" fill="rgba(0,170,175,0.6)"/>
<rect x="118.5" y="146.8" width="2.6" height="47.2" fill="rgba(140,70,80,0.35)"/>
<circle cx="119.80" cy="165.90" r="3.6" fill="rgba(240,88,86,0.7)"/>
<circle cx="263.80" cy="204.80" r="3.6" fill="rgba(240,88,86,0.7)"/>
<circle cx="335.80" cy="211.00" r="3.6" fill="rgba(240,88,86,0.7)"/>
<circle cx="407.80" cy="176.50" r="3.6" fill="rgba(240,88,86,0.7)"/>
<circle cx="119.80" cy="155.00" r="3.6" fill="rgba(0,172,177,0.7)"/>
<circle cx="191.80" cy="147.90" r="3.6" fill="rgba(0,172,177,0.7)"/>
<circle cx="263.80" cy="142.40" r="3.6" fill="rgba(0,172,177,0.7)"/>
<circle cx="335.80" cy="163.00" r="3.6" fill="rgba(0,172,177,0.7)"/>
<circle cx="407.80" cy="154.10" r="3.6" fill="rgba(0,172,177,0.7)"/>
<circle class="dr" cx="113.80" cy="99.00" r="2.72"/>
<circle class="dr" cx="108.08" cy="99.00" r="2.72"/>
<circle class="dr" cx="102.36" cy="99.00" r="2.72"/>
<circle class="dr" cx="113.80" cy="135.90" r="2.72"/>
<circle class="dr" cx="108.08" cy="135.90" r="2.72"/>
<circle class="dr" cx="102.36" cy="135.90" r="2.72"/>
<circle class="dr" cx="113.80" cy="163.90" r="2.72"/>
<circle class="dr" cx="108.08" cy="163.90" r="2.72"/>
<circle class="dr" cx="102.36" cy="163.90" r="2.72"/>
<circle class="dr" cx="96.64" cy="163.90" r="2.72"/>
<circle class="dr" cx="90.92" cy="163.90" r="2.72"/>
<circle class="dr" cx="85.20" cy="163.90" r="2.72"/>
<circle class="dr" cx="113.80" cy="194.10" r="2.72"/>
<circle class="dr" cx="108.08" cy="194.10" r="2.72"/>
<circle class="dr" cx="102.36" cy="194.10" r="2.72"/>
<circle class="dr" cx="113.80" cy="222.30" r="2.72"/>
<circle class="dr" cx="108.08" cy="222.30" r="2.72"/>
<circle class="dr" cx="113.80" cy="250.60" r="2.72"/>
<circle class="dr" cx="108.08" cy="250.60" r="2.72"/>
<circle class="dr" cx="102.36" cy="250.60" r="2.72"/>
<circle class="dr" cx="257.80" cy="161.80" r="2.72"/>
<circle class="dr" cx="252.08" cy="161.80" r="2.72"/>
<circle class="dr" cx="246.36" cy="161.80" r="2.72"/>
<circle class="dr" cx="240.64" cy="161.80" r="2.72"/>
<circle class="dr" cx="234.92" cy="161.80" r="2.72"/>
<circle class="dr" cx="229.20" cy="161.80" r="2.72"/>
<circle class="dr" cx="223.48" cy="161.80" r="2.72"/>
<circle class="dr" cx="257.80" cy="200.60" r="2.72"/>
<circle class="dr" cx="252.08" cy="200.60" r="2.72"/>
<circle class="dr" cx="246.36" cy="200.60" r="2.72"/>
<circle class="dr" cx="240.64" cy="200.60" r="2.72"/>
<circle class="dr" cx="257.80" cy="229.20" r="2.72"/>
<circle class="dr" cx="252.08" cy="229.20" r="2.72"/>
<circle class="dr" cx="246.36" cy="229.20" r="2.72"/>
<circle class="dr" cx="240.64" cy="229.20" r="2.72"/>
<circle class="dr" cx="234.92" cy="229.20" r="2.72"/>
<circle class="dr" cx="257.80" cy="260.90" r="2.72"/>
<circle class="dr" cx="252.08" cy="260.90" r="2.72"/>
<circle class="dr" cx="246.36" cy="260.90" r="2.72"/>
<circle class="dr" cx="240.64" cy="260.90" r="2.72"/>
<circle class="dr" cx="329.80" cy="121.00" r="2.72"/>
<circle class="dr" cx="324.08" cy="121.00" r="2.72"/>
<circle class="dr" cx="329.80" cy="164.40" r="2.72"/>
<circle class="dr" cx="324.08" cy="164.40" r="2.72"/>
<circle class="dr" cx="318.36" cy="164.40" r="2.72"/>
<circle class="dr" cx="312.64" cy="164.40" r="2.72"/>
<circle class="dr" cx="329.80" cy="199.70" r="2.72"/>
<circle class="dr" cx="324.08" cy="199.70" r="2.72"/>
<circle class="dr" cx="318.36" cy="199.70" r="2.72"/>
<circle class="dr" cx="312.64" cy="199.70" r="2.72"/>
<circle class="dr" cx="306.92" cy="199.70" r="2.72"/>
<circle class="dr" cx="329.80" cy="228.10" r="2.72"/>
<circle class="dr" cx="324.08" cy="228.10" r="2.72"/>
<circle class="dr" cx="318.36" cy="228.10" r="2.72"/>
<circle class="dr" cx="312.64" cy="228.10" r="2.72"/>
<circle class="dr" cx="306.92" cy="228.10" r="2.72"/>
<circle class="dr" cx="301.20" cy="228.10" r="2.72"/>
<circle class="dr" cx="295.48" cy="228.10" r="2.72"/>
<circle class="dr" cx="329.80" cy="257.80" r="2.72"/>
<circle class="dr" cx="324.08" cy="257.80" r="2.72"/>
<circle class="dr" cx="401.80" cy="112.50" r="2.72"/>
<circle class="dr" cx="396.08" cy="112.50" r="2.72"/>
<circle class="dr" cx="401.80" cy="140.10" r="2.72"/>
<circle class="dr" cx="396.08" cy="140.10" r="2.72"/>
<circle class="dr" cx="390.36" cy="140.10" r="2.72"/>
<circle class="dr" cx="384.64" cy="140.10" r="2.72"/>
<circle class="dr" cx="401.80" cy="171.70" r="2.72"/>
<circle class="dr" cx="396.08" cy="171.70" r="2.72"/>
<circle class="dr" cx="390.36" cy="171.70" r="2.72"/>
<circle class="dr" cx="384.64" cy="171.70" r="2.72"/>
<circle class="dr" cx="378.92" cy="171.70" r="2.72"/>
<circle class="dr" cx="373.20" cy="171.70" r="2.72"/>
<circle class="dr" cx="401.80" cy="213.90" r="2.72"/>
<circle class="dr" cx="396.08" cy="213.90" r="2.72"/>
<circle class="dr" cx="390.36" cy="213.90" r="2.72"/>
<circle class="dr" cx="384.64" cy="213.90" r="2.72"/>
<circle class="dr" cx="378.92" cy="213.90" r="2.72"/>
<circle class="dr" cx="401.80" cy="257.60" r="2.72"/>
<circle class="dr" cx="396.08" cy="257.60" r="2.72"/>
<circle class="dr" cx="390.36" cy="257.60" r="2.72"/>
<circle class="dt" cx="113.80" cy="116.50" r="2.72"/>
<circle class="dt" cx="108.08" cy="116.50" r="2.72"/>
<circle class="dt" cx="102.36" cy="116.50" r="2.72"/>
<circle class="dt" cx="96.64" cy="116.50" r="2.72"/>
<circle class="dt" cx="90.92" cy="116.50" r="2.72"/>
<circle class="dt" cx="85.20" cy="116.50" r="2.72"/>
<circle class="dt" cx="79.48" cy="116.50" r="2.72"/>
<circle class="dt" cx="113.80" cy="148.90" r="2.72"/>
<circle class="dt" cx="108.08" cy="148.90" r="2.72"/>
<circle class="dt" cx="102.36" cy="148.90" r="2.72"/>
<circle class="dt" cx="96.64" cy="148.90" r="2.72"/>
<circle class="dt" cx="113.80" cy="180.20" r="2.72"/>
<circle class="dt" cx="108.08" cy="180.20" r="2.72"/>
<circle class="dt" cx="102.36" cy="180.20" r="2.72"/>
<circle class="dt" cx="96.64" cy="180.20" r="2.72"/>
<circle class="dt" cx="113.80" cy="211.80" r="2.72"/>
<circle class="dt" cx="108.08" cy="211.80" r="2.72"/>
<circle class="dt" cx="102.36" cy="211.80" r="2.72"/>
<circle class="dt" cx="113.80" cy="243.40" r="2.72"/>
<circle class="dt" cx="108.08" cy="243.40" r="2.72"/>
<circle class="dt" cx="185.80" cy="18.10" r="2.72"/>
<circle class="dt" cx="185.80" cy="125.50" r="2.72"/>
<circle class="dt" cx="180.08" cy="125.50" r="2.72"/>
<circle class="dt" cx="174.36" cy="125.50" r="2.72"/>
<circle class="dt" cx="168.64" cy="125.50" r="2.72"/>
<circle class="dt" cx="162.92" cy="125.50" r="2.72"/>
<circle class="dt" cx="157.20" cy="125.50" r="2.72"/>
<circle class="dt" cx="151.48" cy="125.50" r="2.72"/>
<circle class="dt" cx="145.76" cy="125.50" r="2.72"/>
<circle class="dt" cx="140.04" cy="125.50" r="2.72"/>
<circle class="dt" cx="185.80" cy="167.90" r="2.72"/>
<circle class="dt" cx="180.08" cy="167.90" r="2.72"/>
<circle class="dt" cx="174.36" cy="167.90" r="2.72"/>
<circle class="dt" cx="168.64" cy="167.90" r="2.72"/>
<circle class="dt" cx="162.92" cy="167.90" r="2.72"/>
<circle class="dt" cx="157.20" cy="167.90" r="2.72"/>
<circle class="dt" cx="151.48" cy="167.90" r="2.72"/>
<circle class="dt" cx="145.76" cy="167.90" r="2.72"/>
<circle class="dt" cx="185.80" cy="203.90" r="2.72"/>
<circle class="dt" cx="180.08" cy="203.90" r="2.72"/>
<circle class="dt" cx="257.80" cy="89.40" r="2.72"/>
<circle class="dt" cx="252.08" cy="89.40" r="2.72"/>
<circle class="dt" cx="246.36" cy="89.40" r="2.72"/>
<circle class="dt" cx="240.64" cy="89.40" r="2.72"/>
<circle class="dt" cx="257.80" cy="120.40" r="2.72"/>
<circle class="dt" cx="252.08" cy="120.40" r="2.72"/>
<circle class="dt" cx="246.36" cy="120.40" r="2.72"/>
<circle class="dt" cx="240.64" cy="120.40" r="2.72"/>
<circle class="dt" cx="257.80" cy="149.20" r="2.72"/>
<circle class="dt" cx="252.08" cy="149.20" r="2.72"/>
<circle class="dt" cx="246.36" cy="149.20" r="2.72"/>
<circle class="dt" cx="240.64" cy="149.20" r="2.72"/>
<circle class="dt" cx="234.92" cy="149.20" r="2.72"/>
<circle class="dt" cx="257.80" cy="192.90" r="2.72"/>
<circle class="dt" cx="252.08" cy="192.90" r="2.72"/>
<circle class="dt" cx="246.36" cy="192.90" r="2.72"/>
<circle class="dt" cx="240.64" cy="192.90" r="2.72"/>
<circle class="dt" cx="234.92" cy="192.90" r="2.72"/>
<circle class="dt" cx="257.80" cy="262.20" r="2.72"/>
<circle class="dt" cx="252.08" cy="262.20" r="2.72"/>
<circle class="dt" cx="329.80" cy="113.20" r="2.72"/>
<circle class="dt" cx="324.08" cy="113.20" r="2.72"/>
<circle class="dt" cx="318.36" cy="113.20" r="2.72"/>
<circle class="dt" cx="329.80" cy="141.80" r="2.72"/>
<circle class="dt" cx="324.08" cy="141.80" r="2.72"/>
<circle class="dt" cx="318.36" cy="141.80" r="2.72"/>
<circle class="dt" cx="312.64" cy="141.80" r="2.72"/>
<circle class="dt" cx="306.92" cy="141.80" r="2.72"/>
<circle class="dt" cx="301.20" cy="141.80" r="2.72"/>
<circle class="dt" cx="329.80" cy="169.80" r="2.72"/>
<circle class="dt" cx="324.08" cy="169.80" r="2.72"/>
<circle class="dt" cx="318.36" cy="169.80" r="2.72"/>
<circle class="dt" cx="312.64" cy="169.80" r="2.72"/>
<circle class="dt" cx="306.92" cy="169.80" r="2.72"/>
<circle class="dt" cx="329.80" cy="203.20" r="2.72"/>
<circle class="dt" cx="324.08" cy="203.20" r="2.72"/>
<circle class="dt" cx="318.36" cy="203.20" r="2.72"/>
<circle class="dt" cx="329.80" cy="231.70" r="2.72"/>
<circle class="dt" cx="324.08" cy="231.70" r="2.72"/>
<circle class="dt" cx="318.36" cy="231.70" r="2.72"/>
<circle class="dt" cx="401.80" cy="113.60" r="2.72"/>
<circle class="dt" cx="396.08" cy="113.60" r="2.72"/>
<circle class="dt" cx="390.36" cy="113.60" r="2.72"/>
<circle class="dt" cx="384.64" cy="113.60" r="2.72"/>
<circle class="dt" cx="378.92" cy="113.60" r="2.72"/>
<circle class="dt" cx="401.80" cy="144.80" r="2.72"/>
<circle class="dt" cx="396.08" cy="144.80" r="2.72"/>
<circle class="dt" cx="390.36" cy="144.80" r="2.72"/>
<circle class="dt" cx="384.64" cy="144.80" r="2.72"/>
<circle class="dt" cx="378.92" cy="144.80" r="2.72"/>
<circle class="dt" cx="373.20" cy="144.80" r="2.72"/>
<circle class="dt" cx="401.80" cy="173.30" r="2.72"/>
<circle class="dt" cx="396.08" cy="173.30" r="2.72"/>
<circle class="dt" cx="390.36" cy="173.30" r="2.72"/>
<circle class="dt" cx="384.64" cy="173.30" r="2.72"/>
<circle class="dt" cx="401.80" cy="217.90" r="2.72"/>
<circle class="dt" cx="396.08" cy="217.90" r="2.72"/>
<circle class="dt" cx="390.36" cy="217.90" r="2.72"/>
<circle class="dt" cx="384.64" cy="217.90" r="2.72"/>
<circle class="dt" cx="378.92" cy="217.90" r="2.72"/>
<text x="467" y="129.8" class="ti">Year</text>
<rect x="468.5" y="138.00" width="14.5" height="14.2" fill="rgba(248,118,109,0.58)"/>
<rect x="474.9" y="138.00" width="1.5" height="14.2" fill="rgba(230,90,88,0.3)"/>
<circle cx="475.7" cy="144.50" r="3.2" fill="rgba(240,82,80,0.88)"/>
<text x="489.5" y="147.80" class="ax2">2011</text>
<rect x="468.5" y="155.10" width="14.5" height="14.2" fill="rgba(0,180,186,0.47)"/>
<rect x="474.9" y="155.10" width="1.5" height="14.2" fill="rgba(0,165,170,0.22)"/>
<circle cx="475.7" cy="161.60" r="3.2" fill="rgba(0,168,173,0.88)"/>
<text x="489.5" y="164.90" class="ax2">2021</text>
</svg>
</body></html>
